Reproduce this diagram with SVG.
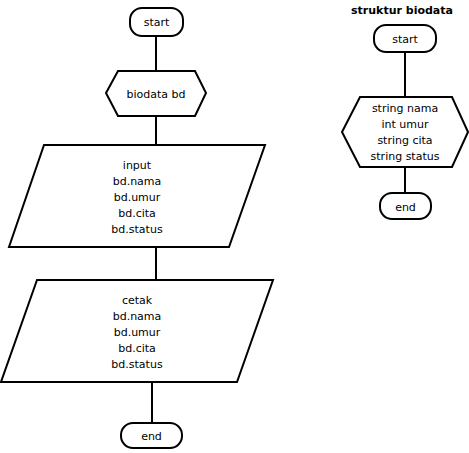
<svg xmlns="http://www.w3.org/2000/svg" width="469" height="453" viewBox="0 0 469 453">
<style>
.s{fill:#fff;stroke:#000;stroke-width:2}
.c{stroke:#000;stroke-width:2;fill:none}
text{font-family:"DejaVu Sans","Liberation Sans",sans-serif;font-size:11px;fill:#000;text-anchor:middle;dominant-baseline:central}
.t{font-weight:bold}
</style>
<rect width="469" height="453" fill="#fff"/>
<g id="connectors">
<line class="c" x1="156" y1="36" x2="156" y2="71"/>
<line class="c" x1="156" y1="116" x2="156" y2="145"/>
<line class="c" x1="156" y1="247" x2="156" y2="280"/>
<line class="c" x1="152" y1="382" x2="152" y2="423"/>
<line class="c" x1="405" y1="52" x2="405" y2="97"/>
<line class="c" x1="405" y1="167" x2="405" y2="193"/>
</g>
<g id="start1"><rect class="s" x="130" y="8" width="53" height="28" rx="12"/><text x="156.5" y="22">start</text></g>
<g id="biodata"><polygon class="s" points="106,93 118,71 195,71 206,93 195,116 118,116"/><text x="156" y="94">biodata bd</text></g>
<g id="input"><polygon class="s" points="44,145 265,145 229,247 9,247"/>
<text x="137" y="165">input</text><text x="137" y="181">bd.nama</text><text x="137" y="197">bd.umur</text><text x="137" y="213">bd.cita</text><text x="137" y="229">bd.status</text></g>
<g id="cetak"><polygon class="s" points="37,280 273,280 237,382 1,382"/>
<text x="137" y="300">cetak</text><text x="137" y="316">bd.nama</text><text x="137" y="332">bd.umur</text><text x="137" y="348">bd.cita</text><text x="137" y="364">bd.status</text></g>
<g id="end1"><rect class="s" x="121" y="423" width="61" height="25" rx="12"/><text x="151.5" y="436">end</text></g>
<g id="title"><text class="t" x="402" y="10">struktur biodata</text></g>
<g id="start2"><rect class="s" x="374" y="25" width="62" height="27" rx="12"/><text x="405" y="39">start</text></g>
<g id="struct"><polygon class="s" points="342,132 360,97 452,97 468,132 452,167 360,167"/>
<text x="405" y="108">string nama</text><text x="405" y="124">int umur</text><text x="405" y="140">string cita</text><text x="405" y="156">string status</text></g>
<g id="end2"><rect class="s" x="380" y="193" width="51" height="26" rx="12"/><text x="405.5" y="207">end</text></g>
</svg>
